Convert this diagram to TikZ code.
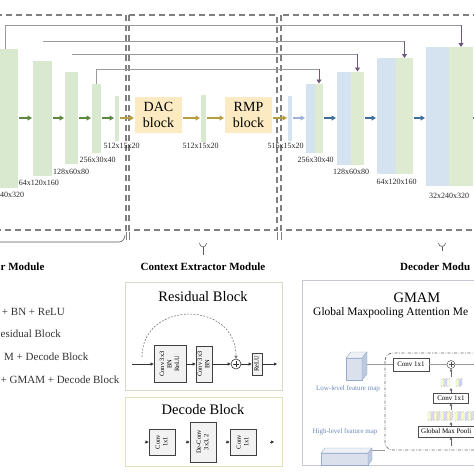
\documentclass[tikz,border=0pt]{standalone}
\usepackage{fontspec}
\setmainfont{Liberation Serif}
\usetikzlibrary{arrows.meta,calc}
\definecolor{encg}{HTML}{D9E9CF}
\definecolor{decb}{HTML}{D5E3F1}
\definecolor{decg}{HTML}{DEEBD1}
\definecolor{ga}{HTML}{5B8A3E}
\definecolor{golda}{HTML}{B59E3E}
\definecolor{lba}{HTML}{9DB3DA}
\definecolor{dba}{HTML}{3E6E9E}
\definecolor{dacfill}{HTML}{FCEBC2}
\definecolor{skipc}{HTML}{9A9A9A}
\definecolor{skiph}{HTML}{6A4C7C}
\definecolor{dashc}{HTML}{808080}
\definecolor{fmblue}{HTML}{6A88B8}
\newcommand{\vtxt}[1]{\rotatebox{90}{\begin{tabular}{@{}c@{}}#1\end{tabular}}}
\newcommand{\fslice}[4]{\filldraw[draw=black!25,fill=#3,line width=0.2pt] (#1,#2+#4) -- (#1,#2+2) -- (#1+3,#2) -- (#1+3,#2+#4-2) -- cycle;}
\begin{document}
\begin{tikzpicture}[x=1pt,y=-1pt,
  blk/.style={draw=none,inner sep=0pt,outer sep=0pt},
  lbl/.style={font=\fontsize{8}{9}\selectfont,inner sep=0pt,text=black!85},
  modl/.style={font=\fontsize{11}{12}\selectfont\bfseries,inner sep=0pt},
  leg/.style={font=\fontsize{11}{13}\selectfont,inner sep=0pt,text=black!80,anchor=east},
  ttl/.style={font=\fontsize{14.5}{16}\selectfont,inner sep=0pt},
  arr/.style={line width=1.5pt,-{Triangle[length=4.5pt,width=5pt]},shorten >=1pt,shorten <=1pt},
  skipl/.style={draw=skipc,line width=0.9pt},
  skipa/.style={draw=skiph!80!gray,line width=0.9pt,-{Triangle[length=4pt,width=5pt]}},
  dbox/.style={draw=dashc,line width=1.6pt,dash pattern=on 6pt off 4pt},
  rbox/.style={draw=black!75,fill=black!5,line width=0.7pt,inner sep=0pt,font=\fontsize{6.5}{7.5}\selectfont},
  rarr/.style={draw=black!80,line width=0.6pt,-{Triangle[length=3pt,width=3pt]}},
  gbox/.style={draw=black!70,fill=white,line width=0.6pt,inner sep=0pt,font=\fontsize{7}{8}\selectfont},
  gl/.style={draw=black!40,line width=0.5pt},
  garr/.style={draw=black!60,line width=0.5pt,-{Triangle[length=2.5pt,width=2.5pt]}}
]
\useasboundingbox (0,0) rectangle (474,474);

% dashed module frames
\draw[dbox] (-10,15) rectangle (126,230);
\draw[dbox] (129,15) rectangle (277,230);
\draw[dbox] (281,15) rectangle (490,230);
\foreach \xx in {126,129,277,281} {\draw[dashc,line width=0.8pt] (\xx,232) -- (\xx,240);}

% encoder blocks
\node[blk,fill=encg,minimum width=26pt,minimum height=139pt] (e1) at (5,118) {};
\node[blk,fill=encg,minimum width=19pt,minimum height=115pt] (e2) at (42.5,118) {};
\node[blk,fill=encg,minimum width=13pt,minimum height=92pt] (e3) at (71.5,118) {};
\node[blk,fill=encg,minimum width=9pt,minimum height=69pt] (e4) at (96.5,118) {};
\node[blk,fill=encg,minimum width=4pt,minimum height=45pt] (e5) at (117,118) {};

% context extractor
\node[blk,fill=dacfill,minimum width=47pt,minimum height=36pt,align=center,font=\fontsize{14}{16}\selectfont] (dac) at (158.5,115) {DAC\\block};
\node[blk,fill=encg,minimum width=5pt,minimum height=47pt] (c1) at (203.5,118) {};
\node[blk,fill=dacfill,minimum width=47pt,minimum height=36pt,align=center,font=\fontsize{14}{16}\selectfont] (rmp) at (248.5,115) {RMP\\block};

% decoder blocks
\node[blk,fill=decb,minimum width=4pt,minimum height=45pt] (d0) at (290,118) {};
\node[blk,fill=decb,minimum width=9pt,minimum height=69pt] (d1b) at (310.5,118) {};
\node[blk,fill=decg,minimum width=8pt,minimum height=69pt] (d1g) at (319,118) {};
\node[blk,fill=decb,minimum width=14pt,minimum height=93pt] (d2b) at (344,118) {};
\node[blk,fill=decg,minimum width=13pt,minimum height=93pt] (d2g) at (357.5,118) {};
\node[blk,fill=decb,minimum width=19pt,minimum height=116pt] (d3b) at (386.5,116) {};
\node[blk,fill=decg,minimum width=17pt,minimum height=116pt] (d3g) at (404.5,116) {};
\node[blk,fill=decb,minimum width=23pt,minimum height=139pt] (d4b) at (437.5,116.5) {};
\node[blk,fill=decg,minimum width=24pt,minimum height=139pt] (d4g) at (461,116.5) {};

% main flow arrows
\draw[arr,draw=ga] (e1.east) -- (e2.west);
\draw[arr,draw=ga] (e2.east) -- (e3.west);
\draw[arr,draw=ga] (e3.east) -- (e4.west);
\draw[arr,draw=ga] (e4.east) -- (e5.west);
\draw[arr,draw=golda] (e5.east) -- (e5.east -| dac.west);
\draw[arr,draw=golda] (c1.west -| dac.east) -- (c1.west);
\draw[arr,draw=golda] (c1.east) -- (c1.east -| rmp.west);
\draw[arr,draw=golda] (d0.west -| rmp.east) -- (d0.west);
\draw[arr,draw=lba] (d0.east) -- (d1b.west);
\draw[arr,draw=dba] (d1g.east) -- (d2b.west);
\draw[arr,draw=dba] (d2g.east) -- (d3b.west |- d2g.east);
\draw[arr,draw=dba] (d3g.east |- d2g.east) -- (d4b.west |- d2g.east);
\coordinate (dout4) at (482,118);
\draw[line width=1.5pt,draw=dba] (d4g.east |- dout4) -- (dout4);

% skip connections
\coordinate (s1) at (461,25);
\coordinate (s2) at (404.5,41);
\coordinate (s3) at (357.5,54);
\coordinate (s4) at (319,69);
\draw[skipl] (e1.north) |- (s1);
\draw[skipa] (s1) -- (d4g.north);
\draw[skipl] (e2.north |- s2) -- (s2);
\draw[skipa] (s2) -- (d3g.north);
\draw[skipl] (e3.north |- s3) -- (s3);
\draw[skipa] (s3) -- (d2g.north);
\draw[skipl] (e4.north) |- (s4);
\draw[skipa] (s4) -- (d1g.north);

% size labels
\node[lbl,anchor=west] (l1) at (0,195) {40x320};
\node[lbl] (l2) at (39,183) {64x120x160};
\node[lbl] (l3) at (71,172) {128x60x80};
\node[lbl] (l4) at (97.5,160) {256x30x40};
\node[lbl] (l5) at (121.5,146) {512x15x20};
\node[lbl] (l6) at (200.5,146) {512x15x20};
\node[lbl] (l7) at (285.5,146) {516x15x20};
\node[lbl] (l8) at (315.5,160) {256x30x40};
\node[lbl] (l9) at (351,172) {128x60x80};
\node[lbl] (l10) at (396.5,182) {64x120x160};
\node[lbl] (l11) at (449,196) {32x240x320};

% braces
\draw[black!65,line width=0.6pt] (-5,242) -- (119,242) to[out=0,in=-90] (125,235);
\draw[black!65,line width=0.6pt] (199.5,243) to[out=-90,in=180] (203,247) to[out=0,in=-90] (206.5,243);
\draw[black!65,line width=0.6pt] (203,247) -- (203,255);
\draw[black!65,line width=0.6pt] (438.5,243) to[out=-90,in=180] (442,246.5) to[out=0,in=-90] (445.5,243);
\draw[black!65,line width=0.6pt] (442,246.5) -- (442,251);

% module labels
\node[modl,anchor=west] (mEnc) at (0.5,267) {r Module};
\node[modl] (mCtx) at (203,267) {Context Extractor Module};
\node[modl,anchor=west] (mDec) at (400,267) {Decoder Modu};

% legend
\node[leg] (lg1) at (65,312) {+ BN + ReLU};
\node[leg,anchor=west] (lg2) at (0.5,334) {esidual Block};
\node[leg,anchor=west] (lg3) at (4,357) {M + Decode Block};
\node[leg,anchor=west] (lg4) at (0.5,380) {+ GMAM + Decode Block};

% residual block panel
\draw[draw=black!15!yellow!20!gray!40,line width=0.8pt] (125,282) rectangle (282,390);
\node[ttl] (rt) at (203,297) {Residual Block};
\coordinate (rin) at (132,364);
\node[rbox,minimum width=32pt,minimum height=37pt] (r1) at (170,364) {\vtxt{Conv 3x3\\BN\\ReLU}};
\node[rbox,minimum width=16pt,minimum height=36pt] (r2) at (204,364) {\vtxt{Conv 3x3\\BN}};
\node[circle,draw=black!80,line width=0.6pt,minimum size=10pt,inner sep=0pt] (rp) at (236,364) {};
\draw[black!80,line width=0.7pt] ($(rp)+(-3,0)$) -- ($(rp)+(3,0)$) ($(rp)+(0,-3)$) -- ($(rp)+(0,3)$);
\node[rbox,minimum width=10pt,minimum height=22pt] (r3) at (257,364) {\vtxt{ReLU}};
\coordinate (rout) at (277,364);
\draw[rarr] (rin) -- (r1.west);
\draw[rarr] (r1.east) -- (r2.west);
\draw[rarr] (r2.east) -- (rp.west);
\draw[rarr] (rp.east) -- (r3.west);
\draw[rarr] (r3.east) -- (rout);
\coordinate (rskip) at (142,357);
\draw[draw=black!55,line width=0.6pt,dash pattern=on 1.8pt off 1.5pt,-{Triangle[length=3pt,width=3pt]}] (rskip) .. controls (142,300) and (236,300) .. (rp.north);

% decode block panel
\draw[draw=yellow!40!gray!45,line width=0.8pt] (125,397) rectangle (282,466);
\node[ttl] (dt) at (203,410) {Decode Block};
\node[rbox,minimum width=26pt,minimum height=26pt] (dc1) at (162,442) {\vtxt{Conv\\1x1}};
\node[rbox,minimum width=26pt,minimum height=40pt] (dc2) at (203,442) {\vtxt{De-Conv\\3x3, 2}};
\node[rbox,minimum width=26pt,minimum height=26pt] (dc3) at (243,442) {\vtxt{Conv\\1x1}};
\coordinate (dout) at (274,442);
\draw[rarr] ($(dc1.west)+(-4,0)$) -- (dc1.west);
\draw[rarr] ($(dc2.west)+(-4,0)$) -- (dc2.west);
\draw[rarr] ($(dc3.west)+(-4,0)$) -- (dc3.west);
\draw[rarr] ($(dout)+(-4,0)$) -- (dout);

% GMAM panel
\draw[draw=blue!10!gray!40,line width=0.8pt] (302,280) rectangle (490,465);
\node[ttl] (gt) at (417,298) {GMAM};
\node[font=\fontsize{11.5}{13}\selectfont,inner sep=0pt,anchor=west] (gst) at (313,313) {Global Maxpooling Attention Me};

% low-level cube
\filldraw[draw=fmblue!70,fill=fmblue!25,line width=0.4pt] (346,358) rectangle (362,380);
\filldraw[draw=fmblue!70,fill=fmblue!12,line width=0.4pt] (346,358) -- (351,352) -- (367,352) -- (362,358) -- cycle;
\filldraw[draw=fmblue!70,fill=fmblue!45,line width=0.4pt] (362,358) -- (367,352) -- (367,374) -- (362,380) -- cycle;
\node[font=\fontsize{7}{8}\selectfont,text=fmblue,inner sep=0pt] (lowl) at (348,389) {Low-level feature map};
% high-level flat box
\filldraw[draw=fmblue!70,fill=fmblue!25,line width=0.4pt] (321,453) rectangle (368,465);
\filldraw[draw=fmblue!70,fill=fmblue!12,line width=0.4pt] (321,453) -- (325,448) -- (372,448) -- (368,453) -- cycle;
\filldraw[draw=fmblue!70,fill=fmblue!45,line width=0.4pt] (368,453) -- (372,448) -- (372,460) -- (368,465) -- cycle;
\node[font=\fontsize{7}{8}\selectfont,text=fmblue,inner sep=0pt] (highl) at (345,432) {High-level feature map};

% dash-dot frame
\draw[draw=black!60,line width=0.7pt,dash pattern=on 3pt off 1.5pt on 0.6pt off 1.5pt,rounded corners=8pt] (385,353) rectangle (495,450);

\node[gbox,minimum width=36pt,minimum height=13pt] (g1) at (411,364.5) {Conv 1x1};
\node[circle,draw=black!70,line width=0.5pt,minimum size=8pt,inner sep=0pt] (gp) at (451,364.5) {};
\draw[black!70,line width=0.6pt] ($(gp)+(-2.5,0)$) -- ($(gp)+(2.5,0)$) ($(gp)+(0,-2.5)$) -- ($(gp)+(0,2.5)$);
\node[gbox,minimum width=35pt,minimum height=10pt] (g2) at (451,398) {Conv 1x1};
\draw[draw=black!70,fill=white,line width=0.6pt] (418,426) rectangle (490,437);
\node[font=\fontsize{7}{8}\selectfont,inner sep=0pt,anchor=west] (g3) at (421,431.5) {Global Max Pooli};

\coordinate (cubeR) at (367,364.5);
\coordinate (flatR) at (372,450);
\coordinate (gpR) at (480,364.5);
\draw[gl] (cubeR) -- (g1.west);
\draw[gl] (flatR) -- (385,450);
\draw[gl] (g1.east) -- (gp.west);
\draw[gl] (gp.east) -- (gpR);

% feature slices
\fslice{441}{378}{green!25!yellow!20}{9}
\fslice{444}{378}{blue!15}{9}
\fslice{447}{378}{green!15!yellow!10}{9}
\fslice{456}{378}{green!25!yellow!20}{9}
\fslice{459}{378}{blue!18}{9}
\foreach \sx/\sc in {428/green!20!yellow!20,431/blue!15,434/yellow!25,437/black!12,441/green!20!yellow!20,444/blue!15,447/yellow!25,450/black!12,455/green!20!yellow!20,458/blue!15,461/yellow!25,465/blue!15,468/green!20!yellow!20,471/black!12} {\fslice{\sx}{411}{\sc}{10}}

\coordinate (f1b) at (451,388);
\coordinate (f1t) at (451,377);
\coordinate (f2t) at (451,410);
\coordinate (f2b) at (451,422);
\coordinate (g3t) at (451,426);
\coordinate (g3b) at (451,437);
\coordinate (gin) at (451,446);
\draw[garr] (f1t) -- (gp.south);
\draw[garr] (g2.north) -- (f1b);
\draw[garr] (f2t) -- (g2.south);
\draw[garr] (g3t) -- (f2b);
\draw[garr] (gin) -- (g3b);
\end{tikzpicture}
\end{document}
